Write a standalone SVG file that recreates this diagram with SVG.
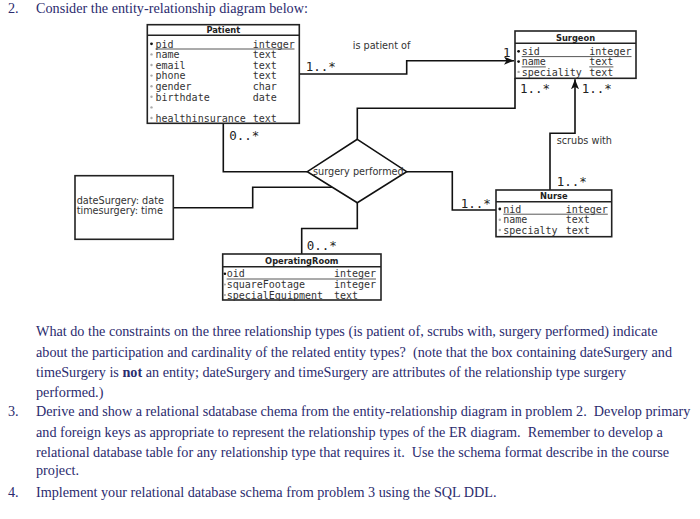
<svg xmlns="http://www.w3.org/2000/svg" width="700" height="519" viewBox="0 0 700 519">
<defs>
<style>
.box{fill:#fff;stroke:#222;stroke-width:1.6}
.sep{stroke:#222;stroke-width:1.4}
.ul{stroke:#444;stroke-width:0.9}
.ttl{font-family:"DejaVu Sans",sans-serif;font-weight:bold;font-size:8.3px;fill:#222;text-anchor:middle}
.at{font-family:"DejaVu Sans Mono",monospace;font-size:10px;fill:#333}
.kb{fill:#111}
.nb{fill:#aaa}
.card{font-family:"DejaVu Sans Mono",monospace;font-size:12.5px;fill:#222}
.lbl{font-family:"DejaVu Sans",sans-serif;font-size:9.7px;fill:#333}
.con{fill:none;stroke:#111;stroke-width:1.6}
.q{font-family:"Liberation Serif","Times New Roman",serif;font-size:14.2px;fill:#2b2b6e;white-space:pre}
</style>
<marker id="arr" viewBox="0 0 10 8" refX="10" refY="4" markerWidth="10" markerHeight="8" orient="auto" markerUnits="userSpaceOnUse">
<path d="M0,0 L10,4 L0,8 L2.5,4 z" fill="#111"/>
</marker>
</defs>
<rect width="700" height="519" fill="#fff"/>

<g id="connectors">
<path class="con" d="M299,74 H406.7 V60.7 H514" marker-end="url(#arr)"/>
<path class="con" d="M515,78.3 V108.3 H357.3 V139.3"/>
<path class="con" d="M223.3,123.3 V171.7 H307.3"/>
<path class="con" d="M173.3,207.7 H252.7 V187.3 H332.5"/>
<path class="con" d="M406.7,171.7 H452.3 V210 H496"/>
<path class="con" d="M357.3,202.7 V228.5 H301.7 V254"/>
<path class="con" d="M550,190 V133.3 H575 V79.3" marker-end="url(#arr)"/>
<text class="card" x="305.7" y="71">1..*</text>
<text class="card" x="503" y="57">1</text>
<text class="card" x="520" y="92.5">1..*</text>
<text class="card" x="581.7" y="92.5">1..*</text>
<text class="card" x="229.3" y="139.5">0..*</text>
<text class="card" x="556.7" y="185.5">1..*</text>
<text class="card" x="460.7" y="207.8">1..*</text>
<text class="card" x="306.7" y="249.5">0..*</text>
<text class="lbl" x="352.7" y="48.8">is patient of</text>
<text class="lbl" x="556.7" y="143.5">scrubs with</text>
</g>

<g id="patient">
<rect class="box" x="147.3" y="24.7" width="152" height="98.6"/>
<line class="sep" x1="147.3" y1="35.3" x2="299.3" y2="35.3"/>
<text class="ttl" x="223.3" y="33.3">Patient</text>
<line class="ul" x1="155.5" y1="49" x2="294.5" y2="49"/>
<circle class="kb" cx="151.5" cy="43.8" r="1.4"/>
<circle class="nb" cx="151.5" cy="54.4" r="1.2"/>
<circle class="nb" cx="151.5" cy="65" r="1.2"/>
<circle class="nb" cx="151.5" cy="75.6" r="1.2"/>
<circle class="nb" cx="151.5" cy="86.2" r="1.2"/>
<circle class="nb" cx="151.5" cy="96.8" r="1.2"/>
<circle class="nb" cx="151.5" cy="107.4" r="1.2"/>
<circle class="nb" cx="151.5" cy="118" r="1.2"/>
<text class="at" x="155.5" y="47.5">pid</text><text class="at" x="252.7" y="47.5">integer</text>
<text class="at" x="155.5" y="58.1">name</text><text class="at" x="252.7" y="58.1">text</text>
<text class="at" x="155.5" y="68.7">email</text><text class="at" x="252.7" y="68.7">text</text>
<text class="at" x="155.5" y="79.3">phone</text><text class="at" x="252.7" y="79.3">text</text>
<text class="at" x="155.5" y="89.9">gender</text><text class="at" x="252.7" y="89.9">char</text>
<text class="at" x="155.5" y="100.5">birthdate</text><text class="at" x="252.7" y="100.5">date</text>
<text class="at" x="155.5" y="121.5">healthinsurance</text><text class="at" x="252.7" y="121.5">text</text>
</g>

<g id="surgeon">
<rect class="box" x="515" y="31" width="121" height="47.3"/>
<line class="sep" x1="515" y1="43.3" x2="636" y2="43.3"/>
<text class="ttl" x="575.5" y="41">Surgeon</text>
<line class="ul" x1="521.7" y1="56.6" x2="631.5" y2="56.6"/>
<line class="ul" x1="521.7" y1="66.9" x2="545.8" y2="66.9"/>
<line class="ul" x1="589.3" y1="66.9" x2="613.4" y2="66.9"/>
<circle class="kb" cx="518.6" cy="51.3" r="1.4"/>
<circle class="kb" cx="518.6" cy="61.6" r="1.4"/>
<circle class="nb" cx="518.6" cy="71.9" r="1.2"/>
<text class="at" x="521.7" y="55">sid</text><text class="at" x="589.3" y="55">integer</text>
<text class="at" x="521.7" y="65.3">name</text><text class="at" x="589.3" y="65.3">text</text>
<text class="at" x="521.7" y="75.6">speciality</text><text class="at" x="589.3" y="75.6">text</text>
</g>

<g id="surgery-performed">
<polygon points="357.3,139.3 406.7,171.7 357.3,202.7 307.3,171.7" fill="#fff" stroke="#111" stroke-width="1.6"/>
<text class="lbl" x="313" y="175">surgery performed</text>
</g>

<g id="surgery-attributes">
<rect class="box" x="75" y="175.7" width="98.3" height="63.6"/>
<text class="lbl" x="76.7" y="203.5">dateSurgery: date</text>
<text class="lbl" x="76.7" y="213.8">timesurgery: time</text>
</g>

<g id="nurse">
<rect class="box" x="496" y="190" width="115.7" height="46.7"/>
<line class="sep" x1="496" y1="201.7" x2="611.7" y2="201.7"/>
<text class="ttl" x="553.8" y="199.3">Nurse</text>
<line class="ul" x1="503.3" y1="214.2" x2="607.8" y2="214.2"/>
<circle class="kb" cx="499.8" cy="209" r="1.4"/>
<circle class="nb" cx="499.8" cy="219.7" r="1.2"/>
<circle class="nb" cx="499.8" cy="230" r="1.2"/>
<text class="at" x="503.3" y="212.6">nid</text><text class="at" x="565.7" y="212.6">integer</text>
<text class="at" x="503.3" y="223.3">name</text><text class="at" x="565.7" y="223.3">text</text>
<text class="at" x="503.3" y="233.6">specialty</text><text class="at" x="565.7" y="233.6">text</text>
</g>

<g id="operatingroom">
<rect class="box" x="222.7" y="254" width="158.3" height="46"/>
<line class="sep" x1="222.7" y1="266.7" x2="381" y2="266.7"/>
<text class="ttl" x="301.8" y="264.3">OperatingRoom</text>
<line class="ul" x1="226.7" y1="279" x2="376" y2="279"/>
<circle class="kb" cx="224.9" cy="273.8" r="1.3"/>
<circle class="nb" cx="224.9" cy="284.5" r="1.1"/>
<circle class="nb" cx="224.9" cy="295" r="1.1"/>
<text class="at" x="226.7" y="277.4">oid</text><text class="at" x="334" y="277.4">integer</text>
<text class="at" x="226.7" y="288">squareFootage</text><text class="at" x="334" y="288">integer</text>
<text class="at" x="226.7" y="298.6">specialEquipment</text><text class="at" x="334" y="298.6">text</text>
</g>

<g id="questions">
<text class="q" x="8" y="13">2.</text>
<text class="q" x="36" y="13">Consider the entity-relationship diagram below:</text>
<text class="q" x="36" y="336">What do the constraints on the three relationship types (is patient of, scrubs with, surgery performed) indicate</text>
<text class="q" x="36" y="356.5">about the participation and cardinality of the related entity types?  (note that the box containing dateSurgery and</text>
<text class="q" x="36" y="377">timeSurgery is <tspan font-weight="bold">not</tspan> an entity; dateSurgery and timeSurgery are attributes of the relationship type surgery</text>
<text class="q" x="36" y="397">performed.)</text>
<text class="q" x="8" y="416">3.</text>
<text class="q" x="36" y="416">Derive and show a relational sdatabase chema from the entity-relationship diagram in problem 2.  Develop primary</text>
<text class="q" x="36" y="436.5">and foreign keys as appropriate to represent the relationship types of the ER diagram.  Remember to develop a</text>
<text class="q" x="36" y="457">relational database table for any relationship type that requires it.  Use the schema format describe in the course</text>
<text class="q" x="36" y="475">project.</text>
<text class="q" x="8" y="497">4.</text>
<text class="q" x="36" y="497">Implement your relational database schema from problem 3 using the SQL DDL.</text>
</g>
</svg>
